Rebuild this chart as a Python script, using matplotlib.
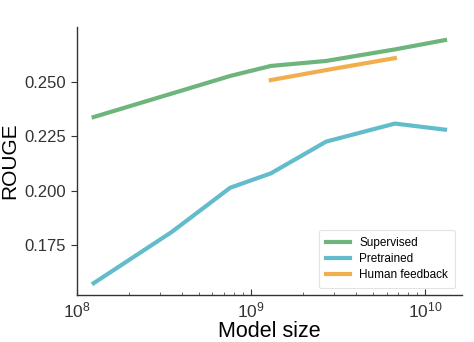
import matplotlib
matplotlib.use("Agg")
import matplotlib.pyplot as plt
from matplotlib.ticker import NullFormatter

plt.rcParams["font.family"] = ["Liberation Sans", "DejaVu Sans"]

model_size = [1.25e8, 7.6e8, 1.3e9, 2.7e9, 6.7e9, 1.3e10]
supervised = [0.2339, 0.2528, 0.2574, 0.2597, 0.2650, 0.2693]
pretrained_size = [1.25e8, 3.5e8, 7.6e8, 1.3e9, 2.7e9, 6.7e9, 1.3e10]
pretrained = [0.1575, 0.1810, 0.2014, 0.2080, 0.2226, 0.2309, 0.2281]
hf_size = [1.3e9, 2.7e9, 6.7e9]
human_feedback = [0.2509, 0.2555, 0.2610]

fig = plt.figure(figsize=(4.74, 3.42), dpi=100)
ax = fig.add_axes([0.162, 0.137, 0.813, 0.784])

ax.plot(model_size, supervised, color="#6db57c", lw=3, label="Supervised")
ax.plot(pretrained_size, pretrained, color="#63bccb", lw=3, label="Pretrained")
ax.plot(hf_size, human_feedback, color="#f2ae4e", lw=3, label="Human feedback")

ax.set_xscale("log")
ax.set_xlim(1e8, 1.63e10)
ax.set_ylim(0.152, 0.2753)
ax.set_yticks([0.175, 0.200, 0.225, 0.250])
ax.set_yticklabels(["0.175", "0.200", "0.225", "0.250"])
ax.xaxis.set_minor_formatter(NullFormatter())

for s in ["top", "right"]:
    ax.spines[s].set_visible(False)
for s in ["left", "bottom"]:
    ax.spines[s].set_color("#333333")
    ax.spines[s].set_linewidth(1.0)

ax.tick_params(axis="y", labelsize=12, colors="#333333", length=4, labelcolor="#333333")
ax.tick_params(axis="x", which="major", direction="in", labelsize=12.5, length=4, colors="#333333")
ax.tick_params(axis="x", which="minor", direction="in", length=2.5, colors="#555555")

ax.set_xlabel("Model size", fontsize=15.5, labelpad=1)
ax.set_ylabel("ROUGE", fontsize=15, labelpad=4)

leg = ax.legend(loc="lower right", fontsize=8.5, frameon=True, handlelength=2.0,
                borderpad=0.6, labelspacing=0.35, borderaxespad=0,
                bbox_to_anchor=(0.982, 0.026))
leg.get_frame().set_edgecolor("#dddddd")
leg.get_frame().set_linewidth(0.8)

fig.savefig("out.png", dpi=100)
